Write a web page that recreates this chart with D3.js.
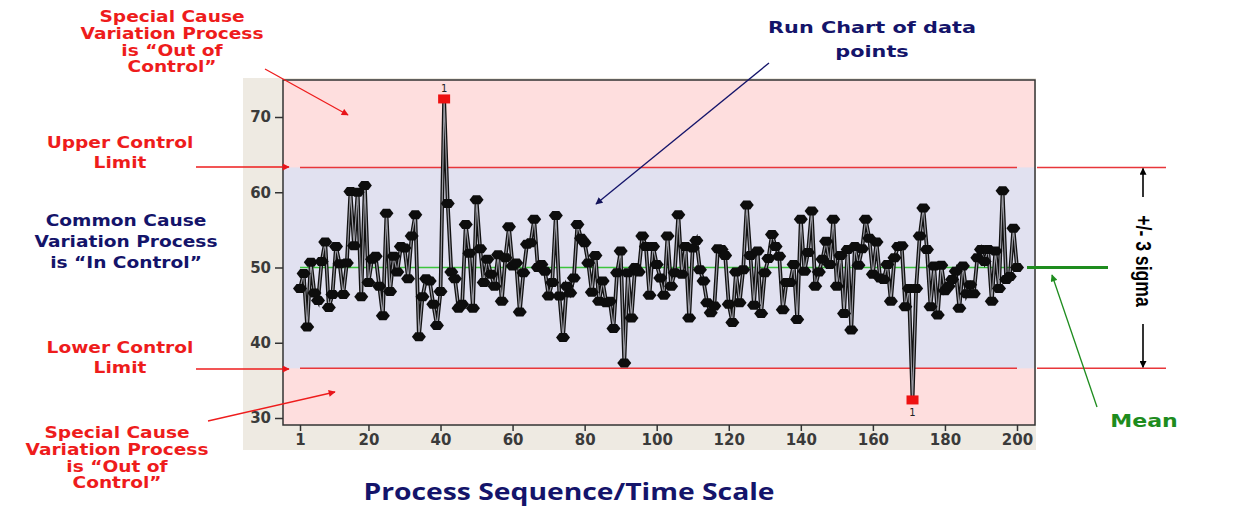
<!DOCTYPE html>
<html>
<head>
<meta charset="utf-8">
<script src="https://cdn.jsdelivr.net/npm/d3@7"></script>
<style>
  body { margin: 0; background: #fff; }
  svg { display: block; }
  .note { font-family: "DejaVu Sans", Verdana, sans-serif; font-weight: bold; font-size: 15px; }
  .tick text { font-family: "DejaVu Sans", Verdana, sans-serif; font-size: 15px; font-weight: bold; fill: #3a3a3a; }
</style>
</head>
<body>
<div id="chart"></div>
<script>
// process values, sample 1..200
const values = [
  47.2, 49.2, 42.1, 50.7, 46.6, 45.6, 50.8, 53.4, 44.7, 46.4,
  52.8, 50.5, 46.4, 50.6, 60.1, 52.9, 60.0, 46.1, 60.9, 48.0,
  51.1, 51.5, 47.5, 43.6, 57.2, 46.8, 51.5, 49.4, 52.8, 52.6,
  48.5, 54.2, 57.0, 40.8, 46.1, 48.5, 48.2, 45.1, 42.3, 46.8,
  72.4, 58.5, 49.4, 48.5, 44.6, 45.1, 55.7, 51.9, 44.6, 59.0,
  52.5, 48.0, 51.1, 49.1, 47.5, 51.7, 45.5, 51.3, 55.4, 50.2,
  50.6, 44.1, 49.3, 53.1, 53.3, 56.4, 50.0, 50.4, 49.5, 46.2,
  48.0, 56.9, 46.2, 40.7, 47.5, 46.6, 48.6, 55.7, 53.9, 53.3,
  50.6, 46.7, 51.6, 45.5, 48.2, 45.3, 45.5, 41.9, 49.3, 52.2,
  37.3, 49.3, 43.3, 50.0, 49.4, 54.2, 52.8, 46.3, 52.8, 50.4,
  48.6, 46.3, 54.2, 47.5, 49.3, 57.0, 49.1, 52.8, 43.3, 52.6,
  53.6, 49.7, 48.2, 45.3, 44.0, 44.9, 52.5, 52.4, 51.6, 45.1,
  42.7, 49.4, 45.3, 49.7, 58.3, 51.6, 45.0, 52.2, 43.9, 49.3,
  51.2, 54.4, 52.8, 51.5, 44.4, 48.0, 48.0, 50.4, 43.1, 56.4,
  49.5, 52.0, 57.5, 47.5, 49.4, 51.1, 53.5, 50.4, 56.4, 47.5,
  51.6, 43.9, 52.4, 41.7, 52.8, 50.3, 52.5, 56.4, 53.9, 49.1,
  53.4, 48.6, 48.4, 50.4, 45.5, 51.3, 52.8, 52.9, 44.8, 47.2,
  32.4, 47.2, 54.2, 57.9, 52.4, 44.8, 50.2, 43.7, 50.3, 46.9,
  47.5, 48.4, 49.5, 44.6, 50.2, 46.5, 47.7, 46.5, 51.3, 52.4,
  50.8, 52.4, 45.5, 52.2, 47.2, 60.2, 48.4, 48.8, 55.2, 50.0
];
const xTicks = [1, 20, 40, 60, 80, 100, 120, 140, 160, 180, 200];
const yTicks = [30, 40, 50, 60, 70];
const meanValue = 50.0;
const uclValue = 63.3;
const lclValue = 36.6;

const width = 1233, height = 525;
const svg = d3.select("#chart").append("svg")
  .attr("width", width).attr("height", height);

const frame = { left: 283, right: 1035, top: 80, bottom: 425 };

const x = d3.scaleLinear().domain([1, 200]).range([300, 1017]);
const y = d3.scaleLinear().domain([30, 70]).range([418, 117]);

// arrowheads
const defs = svg.append("defs");
function arrowHead(id, color) {
  defs.append("marker")
    .attr("id", id)
    .attr("viewBox", "0 0 10 10")
    .attr("refX", 9).attr("refY", 5)
    .attr("markerWidth", 8).attr("markerHeight", 7)
    .attr("markerUnits", "userSpaceOnUse")
    .attr("orient", "auto")
    .append("path").attr("d", "M0,0 L10,5 L0,10 Z").attr("fill", color);
}
arrowHead("arRed", "#e8141a");
arrowHead("arNavy", "#14145a");
arrowHead("arGreen", "#1e8c1e");
arrowHead("arBlack", "#000");

// beige panel behind the plot
svg.append("rect")
  .attr("x", 243).attr("y", 78)
  .attr("width", frame.right - 243 + 1).attr("height", 450 - 78)
  .attr("fill", "#eeeae2");

// plot background: out of control (pink) and in control (lavender)
svg.append("rect")
  .attr("x", frame.left).attr("y", frame.top)
  .attr("width", frame.right - frame.left).attr("height", frame.bottom - frame.top)
  .attr("fill", "#fedede");
svg.append("rect")
  .attr("x", frame.left).attr("y", y(uclValue))
  .attr("width", frame.right - frame.left).attr("height", y(lclValue) - y(uclValue))
  .attr("fill", "#e1e1f0");

// control limit lines and mean inside the plot
[uclValue, lclValue].forEach(v => {
  svg.append("line")
    .attr("x1", x(1)).attr("x2", x(200))
    .attr("y1", y(v)).attr("y2", y(v))
    .attr("stroke", "#e8363a").attr("stroke-width", 1.5);
});
svg.append("line")
  .attr("x1", x(1)).attr("x2", x(200))
  .attr("y1", y(meanValue)).attr("y2", y(meanValue))
  .attr("stroke", "#3cc43c").attr("stroke-width", 1.5);

// frame
svg.append("rect")
  .attr("x", frame.left).attr("y", frame.top)
  .attr("width", frame.right - frame.left).attr("height", frame.bottom - frame.top)
  .attr("fill", "none").attr("stroke", "#333").attr("stroke-width", 1.5);

// axes
const yAxis = svg.append("g")
  .attr("transform", `translate(${frame.left},0)`)
  .call(d3.axisLeft(y).tickValues(yTicks).tickSize(8).tickPadding(4));
const xAxis = svg.append("g")
  .attr("transform", `translate(0,${frame.bottom})`)
  .call(d3.axisBottom(x).tickValues(xTicks).tickSize(6).tickPadding(3));
[xAxis, yAxis].forEach(g => {
  g.select(".domain").remove();
  g.selectAll(".tick line").attr("stroke", "#333").attr("stroke-width", 1.5);
});

// run chart line (double-edged look)
const pts = values.map((v, i) => [i + 1, v]);
const line = d3.line().x(d => x(d[0])).y(d => y(d[1]));
svg.append("path").datum(pts).attr("d", line)
  .attr("fill", "none").attr("stroke", "#111").attr("stroke-width", 3.8);
svg.append("path").datum(pts).attr("d", line)
  .attr("fill", "none").attr("stroke", "#9a9aa2").attr("stroke-width", 1.2);

const isOut = v => v > uclValue || v < lclValue;

// points
svg.selectAll("path.pt")
  .data(pts.filter(d => !isOut(d[1])))
  .enter().append("path")
  .attr("class", "pt")
  .attr("d", "M-7,0 L-3.5,-4.5 L3.5,-4.5 L7,0 L3.5,4.5 L-3.5,4.5 Z")
  .attr("transform", d => `translate(${x(d[0])},${y(d[1])})`)
  .attr("fill", "#0d0d0d");

const outPts = pts.filter(d => isOut(d[1]));
svg.selectAll("rect.out")
  .data(outPts)
  .enter().append("rect")
  .attr("class", "out")
  .attr("x", d => x(d[0]) - 6).attr("y", d => y(d[1]) - 4.5)
  .attr("width", 12).attr("height", 9)
  .attr("fill", "#ee1111");
svg.selectAll("text.outLabel")
  .data(outPts)
  .enter().append("text")
  .attr("class", "outLabel")
  .attr("x", d => x(d[0]))
  .attr("y", d => d[1] > uclValue ? y(d[1]) - 7 : y(d[1]) + 16)
  .attr("text-anchor", "middle")
  .attr("font-family", "DejaVu Sans, sans-serif")
  .attr("font-size", 10)
  .attr("fill", "#222")
  .text("1");

// text helper: the reference lettering is stretched sideways
function note(lines, cx, y0, lh, color, size, sx) {
  const t = svg.append("text").attr("class", "note")
    .attr("transform", `translate(${cx},0) scale(${sx || 1.24},1)`)
    .attr("text-anchor", "middle").attr("fill", color);
  if (size) t.style("font-size", size + "px");
  lines.forEach((s, i) => {
    t.append("tspan").attr("x", 0).attr("y", y0 + i * lh).text(s);
  });
  return t;
}
function arrow(x1, y1, x2, y2, color, id, w) {
  svg.append("line")
    .attr("x1", x1).attr("y1", y1).attr("x2", x2).attr("y2", y2)
    .attr("stroke", color).attr("stroke-width", w || 1.3)
    .attr("marker-end", `url(#${id})`);
}

const red = "#ee1c1c", navy = "#14146a", green = "#1e8c1e";

note(["Special Cause", "Variation Process", "is \u201cOut of", "Control\u201d"], 172, 22, 16.8, red);
arrow(265, 69, 348, 115, red, "arRed");

note(["Upper Control", "Limit"], 120, 148, 20.5, red);
arrow(196, 167, 289, 167, red, "arRed");

note(["Common Cause", "Variation Process", "is \u201cIn Control\u201d"], 126, 226, 21, navy);

note(["Lower Control", "Limit"], 120, 353, 20.5, red);
arrow(196, 369, 289, 369, red, "arRed");

note(["Special Cause", "Variation Process", "is \u201cOut of", "Control\u201d"], 117, 438, 16.8, red);
arrow(208, 421, 335, 392, red, "arRed");

note(["Run Chart of data", "points"], 872, 33, 24, navy, 16, 1.3);
arrow(769, 63, 596, 204, navy, "arNavy");

// right-hand annotations
[uclValue, lclValue].forEach(v => {
  svg.append("line")
    .attr("x1", 1037).attr("x2", 1166)
    .attr("y1", y(v)).attr("y2", y(v))
    .attr("stroke", "#e8363a").attr("stroke-width", 1.5);
});
svg.append("line")
  .attr("x1", 1027).attr("x2", 1108)
  .attr("y1", y(meanValue)).attr("y2", y(meanValue))
  .attr("stroke", green).attr("stroke-width", 3);

arrow(1143, 197, 1143, y(uclValue) + 1, "#000", "arBlack", 1.6);
arrow(1143, 324, 1143, y(lclValue) - 1, "#000", "arBlack", 1.6);
svg.append("text")
  .attr("transform", `translate(1136,261) rotate(90) scale(0.8,1)`)
  .attr("text-anchor", "middle")
  .attr("font-family", "Liberation Sans, Arial, sans-serif")
  .attr("font-weight", "bold")
  .attr("font-size", 22)
  .attr("fill", "#000")
  .text("+/- 3 sigma");

arrow(1097, 407, 1052, 275, green, "arGreen", 1.3);
note(["Mean"], 1144, 427, 0, green, 17, 1.3);

// x axis title
svg.append("text")
  .attr("transform", "translate(569,500) scale(1.23,1)")
  .attr("text-anchor", "middle")
  .attr("font-family", "Open Sans, Noto Sans, sans-serif")
  .attr("font-weight", "bold")
  .attr("font-size", 23)
  .attr("fill", navy)
  .text("Process Sequence/Time Scale");
</script>
</body>
</html>
